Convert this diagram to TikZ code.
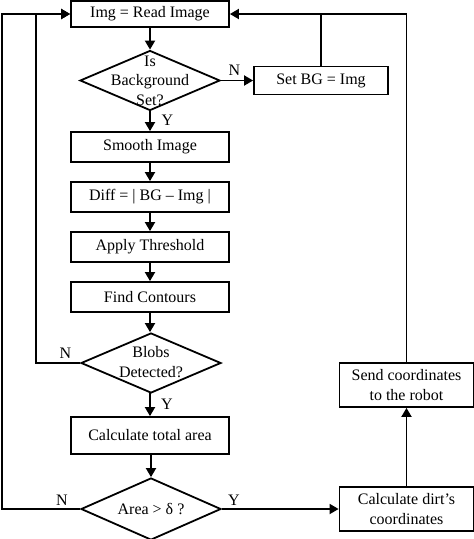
\documentclass[tikz,border=0pt]{standalone}
\usepackage{fontspec}
\setmainfont{Liberation Serif}
\usetikzlibrary{shapes.geometric,arrows.meta}
\begin{document}
\begin{tikzpicture}[x=1pt,y=-1pt,
  font=\fontsize{16}{19.5}\selectfont,
  lw/.style={line width=1.8pt},
  boxnode/.style={draw,lw,minimum width=158pt,minimum height=30pt,inner sep=0pt,align=center},
  sidebox/.style={draw,lw,minimum width=134pt,inner sep=0pt,align=center},
  dia/.style={draw,lw,diamond,minimum width=140pt,minimum height=60pt,inner sep=0pt},
  txt/.style={align=center,inner sep=0pt},
  lbl/.style={inner sep=0pt},
  arr/.style={lw,-{Triangle[length=9pt,width=10pt]}},
  ln/.style={lw}]
\useasboundingbox (0,0) rectangle (474,539);
\node[boxnode,minimum height=26pt] (read) at (150,14) {Img = Read Image};
\node[dia] (d1) at (150,80.5) {};
\node[txt] at (150,80.5) {Is\\Background\\Set?};
\node[sidebox,minimum height=28pt] (setbg) at (321,80.5) {Set BG = Img};
\node[boxnode] (smooth) at (150,147) {Smooth Image};
\node[boxnode] (diff) at (150,197) {Diff = | BG – Img |};
\node[boxnode] (thresh) at (150,247) {Apply Threshold};
\node[boxnode] (cont) at (150,297) {Find Contours};
\node[dia] (d2) at (151,363) {};
\node[txt] at (151,362) {Blobs\\Detected?};
\node[boxnode,minimum height=37pt] (area) at (150,435.5) {Calculate total area};
\node[dia,minimum height=62pt] (d3) at (151,509) {};
\node[txt] at (151,509) {Area > δ ?};
\node[sidebox,minimum height=44pt] (dirt) at (406.5,509) {Calculate dirt’s\\coordinates};
\node[sidebox,minimum height=44pt] (send) at (406.5,385) {Send coordinates\\to the robot};
\coordinate (lo) at (2,509);
\coordinate (li) at (36,363);
% labels
\node[lbl] (n1) at (234.5,70) {N};
\node[lbl] (y1) at (167.5,120) {Y};
\node[lbl] (n2) at (65.5,353) {N};
\node[lbl] (y2) at (167,404) {Y};
\node[lbl] (n3) at (62,500) {N};
\node[lbl] (y3) at (234,500) {Y};
% connectors
\draw[arr] (read) -- (d1);
\draw[arr] (d1.east) -- (d1.east -| setbg.west);
\draw[ln] (setbg.north) -- (setbg.north |- read.east);
\draw[arr] (d1.south) -- (smooth.north);
\draw[arr] (smooth) -- (diff);
\draw[arr] (diff) -- (thresh);
\draw[arr] (thresh) -- (cont);
\draw[arr] (cont.south) -- (cont.south |- d2.north);
\draw[arr] (d2.west) -- (li) |- (read.west);
\draw[arr] (d2.south) -- (d2.south -| area.north) -- (area.north);
\draw[arr] (area.south) -- (area.south -| d3.north) -- (d3.north);
\draw[arr] (d3.west) -- (lo) |- (read.west);
\draw[arr] (d3.east) -- (d3.east -| dirt.west);
\draw[arr] (dirt) -- (send);
\draw[arr] (send.north) |- (read.east);
\end{tikzpicture}
\end{document}
